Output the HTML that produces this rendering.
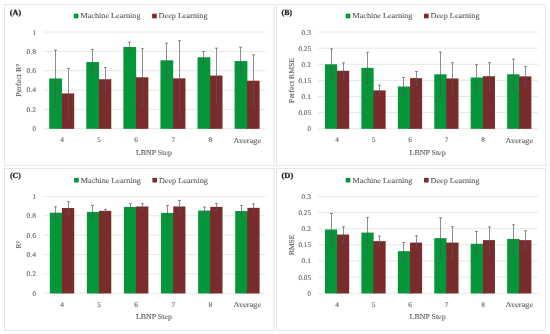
<!DOCTYPE html><html><head><meta charset="utf-8"><title>Figure</title><style>html,body{margin:0;padding:0;background:#fff;overflow:hidden}svg{display:block}text{font-family:"Liberation Serif", "DejaVu Serif", serif;fill:#616161;stroke:#616161;stroke-width:0.12px;text-rendering:geometricPrecision}</style></head><body>
<svg width="550" height="334" viewBox="0 0 550 334">
<rect width="550" height="334" fill="#fff"/>
<rect x="4.50" y="4.50" width="269.50" height="161.00" fill="#fff" stroke="#e6e6e6" stroke-width="1"/>
<text x="9.80" y="14.60" font-size="7.8" font-weight="bold" textLength="11.3" lengthAdjust="spacingAndGlyphs" style="fill:#1a1a1a;stroke:#1a1a1a;stroke-width:0.25px">(A)</text>
<rect x="73.80" y="13.70" width="4.7" height="4.6" fill="#059639"/>
<text x="80.50" y="18.40" font-size="7.5" text-anchor="start" textLength="60.0" lengthAdjust="spacingAndGlyphs">Machine Learning</text>
<rect x="152.10" y="13.70" width="4.7" height="4.6" fill="#7a2c2d"/>
<text x="158.60" y="18.40" font-size="7.5" text-anchor="start" textLength="49.0" lengthAdjust="spacingAndGlyphs">Deep Learning</text>
<line x1="43.30" y1="128.70" x2="265.40" y2="128.70" stroke="#dddddd" stroke-width="0.7"/>
<text x="36.00" y="131.10" font-size="7.0" text-anchor="end">0</text>
<line x1="43.30" y1="109.38" x2="265.40" y2="109.38" stroke="#dddddd" stroke-width="0.7"/>
<text x="36.00" y="111.78" font-size="7.0" text-anchor="end" textLength="9.4" lengthAdjust="spacingAndGlyphs">0.2</text>
<line x1="43.30" y1="90.06" x2="265.40" y2="90.06" stroke="#dddddd" stroke-width="0.7"/>
<text x="36.00" y="92.46" font-size="7.0" text-anchor="end" textLength="9.4" lengthAdjust="spacingAndGlyphs">0.4</text>
<line x1="43.30" y1="70.74" x2="265.40" y2="70.74" stroke="#dddddd" stroke-width="0.7"/>
<text x="36.00" y="73.14" font-size="7.0" text-anchor="end" textLength="9.4" lengthAdjust="spacingAndGlyphs">0.6</text>
<line x1="43.30" y1="51.42" x2="265.40" y2="51.42" stroke="#dddddd" stroke-width="0.7"/>
<text x="36.00" y="53.82" font-size="7.0" text-anchor="end" textLength="9.4" lengthAdjust="spacingAndGlyphs">0.8</text>
<line x1="43.30" y1="32.10" x2="265.40" y2="32.10" stroke="#dddddd" stroke-width="0.7"/>
<text x="36.00" y="34.50" font-size="7.0" text-anchor="end">1</text>
<rect x="61.20" y="93.74" width="1.6" height="35.06" fill="#7a2c2d"/>
<rect x="49.20" y="78.47" width="12.80" height="50.38" fill="#059639"/>
<rect x="62.00" y="93.44" width="12.20" height="35.41" fill="#7a2c2d"/>
<path d="M55.50 49.97V106.96M54.00 49.97h3M54.00 106.96h3" stroke="#555555" stroke-width="1" stroke-opacity="0.66" fill="none"/>
<path d="M68.50 68.32V118.56M67.00 68.32h3M67.00 118.56h3" stroke="#555555" stroke-width="1" stroke-opacity="0.66" fill="none"/>
<text x="62.00" y="142.45" font-size="7.3" text-anchor="middle">4</text>
<rect x="98.28" y="79.54" width="1.6" height="49.26" fill="#7a2c2d"/>
<rect x="86.28" y="62.05" width="12.80" height="66.80" fill="#059639"/>
<rect x="99.08" y="79.24" width="12.20" height="49.61" fill="#7a2c2d"/>
<path d="M92.50 49.49V74.60M91.00 49.49h3M91.00 74.60h3" stroke="#555555" stroke-width="1" stroke-opacity="0.66" fill="none"/>
<path d="M105.50 67.55V90.93M104.00 67.55h3M104.00 90.93h3" stroke="#555555" stroke-width="1" stroke-opacity="0.66" fill="none"/>
<text x="99.08" y="142.45" font-size="7.3" text-anchor="middle">5</text>
<rect x="135.36" y="77.61" width="1.6" height="51.19" fill="#7a2c2d"/>
<rect x="123.36" y="46.98" width="12.80" height="81.87" fill="#059639"/>
<rect x="136.16" y="77.31" width="12.20" height="51.54" fill="#7a2c2d"/>
<path d="M129.50 42.15V51.81M128.00 42.15h3M128.00 51.81h3" stroke="#555555" stroke-width="1" stroke-opacity="0.66" fill="none"/>
<path d="M142.50 48.72V105.90M141.00 48.72h3M141.00 105.90h3" stroke="#555555" stroke-width="1" stroke-opacity="0.66" fill="none"/>
<text x="136.16" y="142.45" font-size="7.3" text-anchor="middle">6</text>
<rect x="172.44" y="78.67" width="1.6" height="50.13" fill="#7a2c2d"/>
<rect x="160.44" y="60.31" width="12.80" height="68.54" fill="#059639"/>
<rect x="173.24" y="78.37" width="12.20" height="50.48" fill="#7a2c2d"/>
<path d="M166.50 43.11V77.50M165.00 43.11h3M165.00 77.50h3" stroke="#555555" stroke-width="1" stroke-opacity="0.66" fill="none"/>
<path d="M179.50 40.70V116.05M178.00 40.70h3M178.00 116.05h3" stroke="#555555" stroke-width="1" stroke-opacity="0.66" fill="none"/>
<text x="173.24" y="142.45" font-size="7.3" text-anchor="middle">7</text>
<rect x="209.52" y="75.87" width="1.6" height="52.93" fill="#7a2c2d"/>
<rect x="197.52" y="57.31" width="12.80" height="71.54" fill="#059639"/>
<rect x="210.32" y="75.57" width="12.20" height="53.28" fill="#7a2c2d"/>
<path d="M203.50 51.52V63.11M202.00 51.52h3M202.00 63.11h3" stroke="#555555" stroke-width="1" stroke-opacity="0.66" fill="none"/>
<path d="M216.50 48.14V103.00M215.00 48.14h3M215.00 103.00h3" stroke="#555555" stroke-width="1" stroke-opacity="0.66" fill="none"/>
<text x="210.32" y="142.45" font-size="7.3" text-anchor="middle">8</text>
<rect x="246.60" y="80.99" width="1.6" height="47.81" fill="#7a2c2d"/>
<rect x="234.60" y="61.08" width="12.80" height="67.77" fill="#059639"/>
<rect x="247.40" y="80.69" width="12.20" height="48.16" fill="#7a2c2d"/>
<path d="M240.50 47.27V74.89M239.00 47.27h3M239.00 74.89h3" stroke="#555555" stroke-width="1" stroke-opacity="0.66" fill="none"/>
<path d="M253.50 54.80V106.58M252.00 54.80h3M252.00 106.58h3" stroke="#555555" stroke-width="1" stroke-opacity="0.66" fill="none"/>
<text x="247.40" y="142.50" font-size="7.5" text-anchor="middle" textLength="27.6" lengthAdjust="spacingAndGlyphs">Average</text>
<text x="153.95" y="154.70" font-size="7.5" text-anchor="middle" textLength="36.0" lengthAdjust="spacingAndGlyphs">LBNP Step</text>
<g transform="translate(21.30 80.40) rotate(-90)"><text x="0.00" y="0.00" font-size="7.5" text-anchor="middle" textLength="32.6" lengthAdjust="spacingAndGlyphs">Perfect R²</text></g>
<rect x="276.50" y="4.50" width="269.00" height="161.00" fill="#fff" stroke="#e6e6e6" stroke-width="1"/>
<text x="281.60" y="14.60" font-size="7.8" font-weight="bold" textLength="10.5" lengthAdjust="spacingAndGlyphs" style="fill:#1a1a1a;stroke:#1a1a1a;stroke-width:0.25px">(B)</text>
<rect x="345.70" y="13.70" width="4.7" height="4.6" fill="#059639"/>
<text x="352.40" y="18.40" font-size="7.5" text-anchor="start" textLength="60.0" lengthAdjust="spacingAndGlyphs">Machine Learning</text>
<rect x="424.00" y="13.70" width="4.7" height="4.6" fill="#7a2c2d"/>
<text x="430.50" y="18.40" font-size="7.5" text-anchor="start" textLength="49.0" lengthAdjust="spacingAndGlyphs">Deep Learning</text>
<line x1="318.00" y1="128.70" x2="538.00" y2="128.70" stroke="#dddddd" stroke-width="0.7"/>
<text x="311.00" y="131.10" font-size="7.0" text-anchor="end">0</text>
<line x1="318.00" y1="112.60" x2="538.00" y2="112.60" stroke="#dddddd" stroke-width="0.7"/>
<text x="311.00" y="115.00" font-size="7.0" text-anchor="end" textLength="12.6" lengthAdjust="spacingAndGlyphs">0.05</text>
<line x1="318.00" y1="96.50" x2="538.00" y2="96.50" stroke="#dddddd" stroke-width="0.7"/>
<text x="311.00" y="98.90" font-size="7.0" text-anchor="end" textLength="9.4" lengthAdjust="spacingAndGlyphs">0.1</text>
<line x1="318.00" y1="80.40" x2="538.00" y2="80.40" stroke="#dddddd" stroke-width="0.7"/>
<text x="311.00" y="82.80" font-size="7.0" text-anchor="end" textLength="12.6" lengthAdjust="spacingAndGlyphs">0.15</text>
<line x1="318.00" y1="64.30" x2="538.00" y2="64.30" stroke="#dddddd" stroke-width="0.7"/>
<text x="311.00" y="66.70" font-size="7.0" text-anchor="end" textLength="9.4" lengthAdjust="spacingAndGlyphs">0.2</text>
<line x1="318.00" y1="48.20" x2="538.00" y2="48.20" stroke="#dddddd" stroke-width="0.7"/>
<text x="311.00" y="50.60" font-size="7.0" text-anchor="end" textLength="12.6" lengthAdjust="spacingAndGlyphs">0.25</text>
<line x1="318.00" y1="32.10" x2="538.00" y2="32.10" stroke="#dddddd" stroke-width="0.7"/>
<text x="311.00" y="34.50" font-size="7.0" text-anchor="end" textLength="9.4" lengthAdjust="spacingAndGlyphs">0.3</text>
<rect x="336.40" y="71.04" width="1.6" height="57.76" fill="#7a2c2d"/>
<rect x="324.95" y="64.30" width="12.25" height="64.55" fill="#059639"/>
<rect x="337.20" y="70.74" width="12.00" height="58.11" fill="#7a2c2d"/>
<path d="M331.50 48.84V79.76M330.00 48.84h3M330.00 79.76h3" stroke="#555555" stroke-width="1" stroke-opacity="0.66" fill="none"/>
<path d="M343.50 62.85V78.63M342.00 62.85h3M342.00 78.63h3" stroke="#555555" stroke-width="1" stroke-opacity="0.66" fill="none"/>
<text x="337.20" y="142.45" font-size="7.3" text-anchor="middle">4</text>
<rect x="372.84" y="90.68" width="1.6" height="38.12" fill="#7a2c2d"/>
<rect x="361.39" y="67.84" width="12.25" height="61.01" fill="#059639"/>
<rect x="373.64" y="90.38" width="12.00" height="38.47" fill="#7a2c2d"/>
<path d="M367.50 52.39V83.30M366.00 52.39h3M366.00 83.30h3" stroke="#555555" stroke-width="1" stroke-opacity="0.66" fill="none"/>
<path d="M379.50 85.23V95.53M378.00 85.23h3M378.00 95.53h3" stroke="#555555" stroke-width="1" stroke-opacity="0.66" fill="none"/>
<text x="373.64" y="142.45" font-size="7.3" text-anchor="middle">5</text>
<rect x="409.28" y="86.82" width="1.6" height="41.98" fill="#7a2c2d"/>
<rect x="397.83" y="86.52" width="12.25" height="42.33" fill="#059639"/>
<rect x="410.08" y="78.15" width="12.00" height="50.70" fill="#7a2c2d"/>
<path d="M403.50 77.50V95.53M402.00 77.50h3M402.00 95.53h3" stroke="#555555" stroke-width="1" stroke-opacity="0.66" fill="none"/>
<path d="M416.50 71.54V84.75M415.00 71.54h3M415.00 84.75h3" stroke="#555555" stroke-width="1" stroke-opacity="0.66" fill="none"/>
<text x="410.08" y="142.45" font-size="7.3" text-anchor="middle">6</text>
<rect x="445.72" y="78.77" width="1.6" height="50.03" fill="#7a2c2d"/>
<rect x="434.27" y="74.28" width="12.25" height="54.57" fill="#059639"/>
<rect x="446.52" y="78.47" width="12.00" height="50.38" fill="#7a2c2d"/>
<path d="M440.50 52.06V96.50M439.00 52.06h3M439.00 96.50h3" stroke="#555555" stroke-width="1" stroke-opacity="0.66" fill="none"/>
<path d="M452.50 62.69V94.25M451.00 62.69h3M451.00 94.25h3" stroke="#555555" stroke-width="1" stroke-opacity="0.66" fill="none"/>
<text x="446.52" y="142.45" font-size="7.3" text-anchor="middle">7</text>
<rect x="482.16" y="77.80" width="1.6" height="51.00" fill="#7a2c2d"/>
<rect x="470.71" y="77.50" width="12.25" height="51.35" fill="#059639"/>
<rect x="482.96" y="76.21" width="12.00" height="52.64" fill="#7a2c2d"/>
<path d="M476.50 64.62V90.38M475.00 64.62h3M475.00 90.38h3" stroke="#555555" stroke-width="1" stroke-opacity="0.66" fill="none"/>
<path d="M489.50 62.69V89.74M488.00 62.69h3M488.00 89.74h3" stroke="#555555" stroke-width="1" stroke-opacity="0.66" fill="none"/>
<text x="482.96" y="142.45" font-size="7.3" text-anchor="middle">8</text>
<rect x="518.60" y="76.67" width="1.6" height="52.12" fill="#7a2c2d"/>
<rect x="507.15" y="74.28" width="12.25" height="54.57" fill="#059639"/>
<rect x="519.40" y="76.37" width="12.00" height="52.48" fill="#7a2c2d"/>
<path d="M513.50 59.15V89.42M512.00 59.15h3M512.00 89.42h3" stroke="#555555" stroke-width="1" stroke-opacity="0.66" fill="none"/>
<path d="M525.50 66.55V86.20M524.00 66.55h3M524.00 86.20h3" stroke="#555555" stroke-width="1" stroke-opacity="0.66" fill="none"/>
<text x="519.40" y="142.50" font-size="7.5" text-anchor="middle" textLength="27.6" lengthAdjust="spacingAndGlyphs">Average</text>
<text x="427.60" y="154.70" font-size="7.5" text-anchor="middle" textLength="36.0" lengthAdjust="spacingAndGlyphs">LBNP Step</text>
<g transform="translate(293.90 80.40) rotate(-90)"><text x="0.00" y="0.00" font-size="7.5" text-anchor="middle" textLength="45.0" lengthAdjust="spacingAndGlyphs">Perfect RMSE</text></g>
<rect x="4.50" y="168.50" width="269.50" height="161.90" fill="#fff" stroke="#e6e6e6" stroke-width="1"/>
<text x="10.00" y="178.20" font-size="7.8" font-weight="bold" textLength="10.8" lengthAdjust="spacingAndGlyphs" style="fill:#1a1a1a;stroke:#1a1a1a;stroke-width:0.25px">(C)</text>
<rect x="74.10" y="177.90" width="4.7" height="4.6" fill="#059639"/>
<text x="80.80" y="182.60" font-size="7.5" text-anchor="start" textLength="60.0" lengthAdjust="spacingAndGlyphs">Machine Learning</text>
<rect x="152.40" y="177.90" width="4.7" height="4.6" fill="#7a2c2d"/>
<text x="158.90" y="182.60" font-size="7.5" text-anchor="start" textLength="49.0" lengthAdjust="spacingAndGlyphs">Deep Learning</text>
<line x1="43.30" y1="293.30" x2="265.40" y2="293.30" stroke="#dddddd" stroke-width="0.7"/>
<text x="36.00" y="295.70" font-size="7.0" text-anchor="end">0</text>
<line x1="43.30" y1="273.92" x2="265.40" y2="273.92" stroke="#dddddd" stroke-width="0.7"/>
<text x="36.00" y="276.32" font-size="7.0" text-anchor="end" textLength="9.4" lengthAdjust="spacingAndGlyphs">0.2</text>
<line x1="43.30" y1="254.54" x2="265.40" y2="254.54" stroke="#dddddd" stroke-width="0.7"/>
<text x="36.00" y="256.94" font-size="7.0" text-anchor="end" textLength="9.4" lengthAdjust="spacingAndGlyphs">0.4</text>
<line x1="43.30" y1="235.16" x2="265.40" y2="235.16" stroke="#dddddd" stroke-width="0.7"/>
<text x="36.00" y="237.56" font-size="7.0" text-anchor="end" textLength="9.4" lengthAdjust="spacingAndGlyphs">0.6</text>
<line x1="43.30" y1="215.78" x2="265.40" y2="215.78" stroke="#dddddd" stroke-width="0.7"/>
<text x="36.00" y="218.18" font-size="7.0" text-anchor="end" textLength="9.4" lengthAdjust="spacingAndGlyphs">0.8</text>
<line x1="43.30" y1="196.40" x2="265.40" y2="196.40" stroke="#dddddd" stroke-width="0.7"/>
<text x="36.00" y="198.80" font-size="7.0" text-anchor="end">1</text>
<rect x="61.20" y="212.98" width="1.6" height="80.42" fill="#7a2c2d"/>
<rect x="49.80" y="212.68" width="12.20" height="80.77" fill="#059639"/>
<rect x="62.00" y="208.03" width="12.20" height="85.42" fill="#7a2c2d"/>
<path d="M55.50 206.77V218.59M54.00 206.77h3M54.00 218.59h3" stroke="#555555" stroke-width="1" stroke-opacity="0.66" fill="none"/>
<path d="M68.50 201.73V214.33M67.00 201.73h3M67.00 214.33h3" stroke="#555555" stroke-width="1" stroke-opacity="0.66" fill="none"/>
<text x="62.00" y="307.05" font-size="7.3" text-anchor="middle">4</text>
<rect x="98.28" y="212.20" width="1.6" height="81.20" fill="#7a2c2d"/>
<rect x="86.88" y="211.90" width="12.20" height="81.55" fill="#059639"/>
<rect x="99.08" y="210.84" width="12.20" height="82.61" fill="#7a2c2d"/>
<path d="M92.50 205.36V218.44M91.00 205.36h3M91.00 218.44h3" stroke="#555555" stroke-width="1" stroke-opacity="0.66" fill="none"/>
<path d="M105.50 209.38V212.29M104.00 209.38h3M104.00 212.29h3" stroke="#555555" stroke-width="1" stroke-opacity="0.66" fill="none"/>
<text x="99.08" y="307.05" font-size="7.3" text-anchor="middle">5</text>
<rect x="135.36" y="207.17" width="1.6" height="86.23" fill="#7a2c2d"/>
<rect x="123.96" y="206.87" width="12.20" height="86.58" fill="#059639"/>
<rect x="136.16" y="206.48" width="12.20" height="86.97" fill="#7a2c2d"/>
<path d="M130.50 203.67V210.06M129.00 203.67h3M129.00 210.06h3" stroke="#555555" stroke-width="1" stroke-opacity="0.66" fill="none"/>
<path d="M142.50 203.76V209.19M141.00 203.76h3M141.00 209.19h3" stroke="#555555" stroke-width="1" stroke-opacity="0.66" fill="none"/>
<text x="136.16" y="307.05" font-size="7.3" text-anchor="middle">6</text>
<rect x="172.44" y="213.17" width="1.6" height="80.23" fill="#7a2c2d"/>
<rect x="161.04" y="212.87" width="12.20" height="80.58" fill="#059639"/>
<rect x="173.24" y="206.48" width="12.20" height="86.97" fill="#7a2c2d"/>
<path d="M167.50 205.41V220.33M166.00 205.41h3M166.00 220.33h3" stroke="#555555" stroke-width="1" stroke-opacity="0.66" fill="none"/>
<path d="M179.50 200.47V212.49M178.00 200.47h3M178.00 212.49h3" stroke="#555555" stroke-width="1" stroke-opacity="0.66" fill="none"/>
<text x="173.24" y="307.05" font-size="7.3" text-anchor="middle">7</text>
<rect x="209.52" y="210.85" width="1.6" height="82.55" fill="#7a2c2d"/>
<rect x="198.12" y="210.55" width="12.20" height="82.90" fill="#059639"/>
<rect x="210.32" y="206.87" width="12.20" height="86.58" fill="#7a2c2d"/>
<path d="M204.50 207.06V214.04M203.00 207.06h3M203.00 214.04h3" stroke="#555555" stroke-width="1" stroke-opacity="0.66" fill="none"/>
<path d="M216.50 203.47V210.26M215.00 203.47h3M215.00 210.26h3" stroke="#555555" stroke-width="1" stroke-opacity="0.66" fill="none"/>
<text x="210.32" y="307.05" font-size="7.3" text-anchor="middle">8</text>
<rect x="246.60" y="211.33" width="1.6" height="82.07" fill="#7a2c2d"/>
<rect x="235.20" y="211.03" width="12.20" height="82.42" fill="#059639"/>
<rect x="247.40" y="207.83" width="12.20" height="85.62" fill="#7a2c2d"/>
<path d="M241.50 205.61V216.46M240.00 205.61h3M240.00 216.46h3" stroke="#555555" stroke-width="1" stroke-opacity="0.66" fill="none"/>
<path d="M253.50 203.86V211.81M252.00 203.86h3M252.00 211.81h3" stroke="#555555" stroke-width="1" stroke-opacity="0.66" fill="none"/>
<text x="247.40" y="307.10" font-size="7.5" text-anchor="middle" textLength="27.6" lengthAdjust="spacingAndGlyphs">Average</text>
<text x="153.95" y="318.80" font-size="7.5" text-anchor="middle" textLength="36.0" lengthAdjust="spacingAndGlyphs">LBNP Step</text>
<g transform="translate(21.30 244.85) rotate(-90)"><text x="0.00" y="0.00" font-size="7.5" text-anchor="middle" textLength="7.2" lengthAdjust="spacingAndGlyphs">R²</text></g>
<rect x="276.50" y="168.50" width="269.00" height="161.90" fill="#fff" stroke="#e6e6e6" stroke-width="1"/>
<text x="281.60" y="178.20" font-size="7.8" font-weight="bold" textLength="11.6" lengthAdjust="spacingAndGlyphs" style="fill:#1a1a1a;stroke:#1a1a1a;stroke-width:0.25px">(D)</text>
<rect x="345.70" y="177.90" width="4.7" height="4.6" fill="#059639"/>
<text x="352.40" y="182.60" font-size="7.5" text-anchor="start" textLength="60.0" lengthAdjust="spacingAndGlyphs">Machine Learning</text>
<rect x="424.00" y="177.90" width="4.7" height="4.6" fill="#7a2c2d"/>
<text x="430.50" y="182.60" font-size="7.5" text-anchor="start" textLength="49.0" lengthAdjust="spacingAndGlyphs">Deep Learning</text>
<line x1="318.00" y1="293.30" x2="538.00" y2="293.30" stroke="#dddddd" stroke-width="0.7"/>
<text x="311.00" y="295.70" font-size="7.0" text-anchor="end">0</text>
<line x1="318.00" y1="277.15" x2="538.00" y2="277.15" stroke="#dddddd" stroke-width="0.7"/>
<text x="311.00" y="279.55" font-size="7.0" text-anchor="end" textLength="12.6" lengthAdjust="spacingAndGlyphs">0.05</text>
<line x1="318.00" y1="261.00" x2="538.00" y2="261.00" stroke="#dddddd" stroke-width="0.7"/>
<text x="311.00" y="263.40" font-size="7.0" text-anchor="end" textLength="9.4" lengthAdjust="spacingAndGlyphs">0.1</text>
<line x1="318.00" y1="244.85" x2="538.00" y2="244.85" stroke="#dddddd" stroke-width="0.7"/>
<text x="311.00" y="247.25" font-size="7.0" text-anchor="end" textLength="12.6" lengthAdjust="spacingAndGlyphs">0.15</text>
<line x1="318.00" y1="228.70" x2="538.00" y2="228.70" stroke="#dddddd" stroke-width="0.7"/>
<text x="311.00" y="231.10" font-size="7.0" text-anchor="end" textLength="9.4" lengthAdjust="spacingAndGlyphs">0.2</text>
<line x1="318.00" y1="212.55" x2="538.00" y2="212.55" stroke="#dddddd" stroke-width="0.7"/>
<text x="311.00" y="214.95" font-size="7.0" text-anchor="end" textLength="12.6" lengthAdjust="spacingAndGlyphs">0.25</text>
<line x1="318.00" y1="196.40" x2="538.00" y2="196.40" stroke="#dddddd" stroke-width="0.7"/>
<text x="311.00" y="198.80" font-size="7.0" text-anchor="end" textLength="9.4" lengthAdjust="spacingAndGlyphs">0.3</text>
<rect x="336.40" y="234.81" width="1.6" height="58.59" fill="#7a2c2d"/>
<rect x="324.95" y="229.51" width="12.25" height="63.94" fill="#059639"/>
<rect x="337.20" y="234.51" width="12.00" height="58.94" fill="#7a2c2d"/>
<path d="M331.50 213.52V245.50M330.00 213.52h3M330.00 245.50h3" stroke="#555555" stroke-width="1" stroke-opacity="0.66" fill="none"/>
<path d="M343.50 226.76V242.27M342.00 226.76h3M342.00 242.27h3" stroke="#555555" stroke-width="1" stroke-opacity="0.66" fill="none"/>
<text x="337.20" y="307.05" font-size="7.3" text-anchor="middle">4</text>
<rect x="372.84" y="241.44" width="1.6" height="51.96" fill="#7a2c2d"/>
<rect x="361.39" y="232.58" width="12.25" height="60.87" fill="#059639"/>
<rect x="373.64" y="241.14" width="12.00" height="52.31" fill="#7a2c2d"/>
<path d="M367.50 217.40V247.76M366.00 217.40h3M366.00 247.76h3" stroke="#555555" stroke-width="1" stroke-opacity="0.66" fill="none"/>
<path d="M379.50 236.13V246.14M378.00 236.13h3M378.00 246.14h3" stroke="#555555" stroke-width="1" stroke-opacity="0.66" fill="none"/>
<text x="373.64" y="307.05" font-size="7.3" text-anchor="middle">5</text>
<rect x="409.28" y="251.48" width="1.6" height="41.92" fill="#7a2c2d"/>
<rect x="397.83" y="251.18" width="12.25" height="42.27" fill="#059639"/>
<rect x="410.08" y="242.59" width="12.00" height="50.86" fill="#7a2c2d"/>
<path d="M403.50 242.46V259.90M402.00 242.46h3M402.00 259.90h3" stroke="#555555" stroke-width="1" stroke-opacity="0.66" fill="none"/>
<path d="M416.50 235.81V249.37M415.00 235.81h3M415.00 249.37h3" stroke="#555555" stroke-width="1" stroke-opacity="0.66" fill="none"/>
<text x="410.08" y="307.05" font-size="7.3" text-anchor="middle">6</text>
<rect x="445.72" y="242.89" width="1.6" height="50.51" fill="#7a2c2d"/>
<rect x="434.27" y="238.13" width="12.25" height="55.32" fill="#059639"/>
<rect x="446.52" y="242.59" width="12.00" height="50.86" fill="#7a2c2d"/>
<path d="M440.50 217.78V258.48M439.00 217.78h3M439.00 258.48h3" stroke="#555555" stroke-width="1" stroke-opacity="0.66" fill="none"/>
<path d="M452.50 226.76V258.42M451.00 226.76h3M451.00 258.42h3" stroke="#555555" stroke-width="1" stroke-opacity="0.66" fill="none"/>
<text x="446.52" y="307.05" font-size="7.3" text-anchor="middle">7</text>
<rect x="482.16" y="244.05" width="1.6" height="49.35" fill="#7a2c2d"/>
<rect x="470.71" y="243.75" width="12.25" height="49.70" fill="#059639"/>
<rect x="482.96" y="240.13" width="12.00" height="53.32" fill="#7a2c2d"/>
<path d="M476.50 231.48V256.03M475.00 231.48h3M475.00 256.03h3" stroke="#555555" stroke-width="1" stroke-opacity="0.66" fill="none"/>
<path d="M489.50 226.89V253.38M488.00 226.89h3M488.00 253.38h3" stroke="#555555" stroke-width="1" stroke-opacity="0.66" fill="none"/>
<text x="482.96" y="307.05" font-size="7.3" text-anchor="middle">8</text>
<rect x="518.60" y="240.43" width="1.6" height="52.97" fill="#7a2c2d"/>
<rect x="507.15" y="238.94" width="12.25" height="54.51" fill="#059639"/>
<rect x="519.40" y="240.13" width="12.00" height="53.32" fill="#7a2c2d"/>
<path d="M513.50 224.73V253.15M512.00 224.73h3M512.00 253.15h3" stroke="#555555" stroke-width="1" stroke-opacity="0.66" fill="none"/>
<path d="M525.50 230.77V249.50M524.00 230.77h3M524.00 249.50h3" stroke="#555555" stroke-width="1" stroke-opacity="0.66" fill="none"/>
<text x="519.40" y="307.10" font-size="7.5" text-anchor="middle" textLength="27.6" lengthAdjust="spacingAndGlyphs">Average</text>
<text x="427.60" y="318.80" font-size="7.5" text-anchor="middle" textLength="36.0" lengthAdjust="spacingAndGlyphs">LBNP Step</text>
<g transform="translate(293.70 244.85) rotate(-90)"><text x="0.00" y="0.00" font-size="7.5" text-anchor="middle" textLength="20.4" lengthAdjust="spacingAndGlyphs">RMSE</text></g>
</svg></body></html>
